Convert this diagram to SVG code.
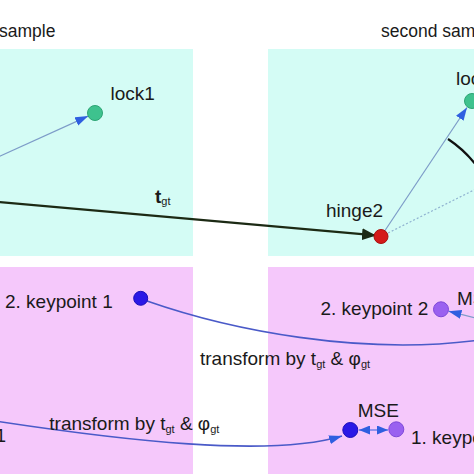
<svg xmlns="http://www.w3.org/2000/svg" width="474" height="474" viewBox="0 0 474 474">
<defs>
<style>
text{font-family:"Liberation Sans",Arial,sans-serif;fill:#1a1a1a}
.lbl{font-size:19px}
.title{font-size:17.5px}
.sub{font-size:11px}
.cyan{fill:#d4fcf5}
.pink{fill:#f5c8fb}
.thin{fill:none;stroke:#7d9cc8;stroke-width:1.2}
.dot{fill:none;stroke:#8fb2d0;stroke-width:1.2;stroke-dasharray:2 2}
.curve{fill:none;stroke:#4a5ac8;stroke-width:1.6}
.blue{fill:#2a18e6;stroke:#1c10b8;stroke-width:1}
.purple{fill:#9a60f0;stroke:#7e48d8;stroke-width:1}
</style>
<marker id="ab" markerUnits="userSpaceOnUse" markerWidth="14" markerHeight="10" refX="13" refY="5" orient="auto"><path d="M0,0.5 L13,5 L0,9.5 z" fill="#2f5fe0"/></marker>
<marker id="am" markerUnits="userSpaceOnUse" markerWidth="12" markerHeight="9" refX="11" refY="4.5" orient="auto-start-reverse"><path d="M0,0 L11,4.5 L0,9 z" fill="#2f5fe0"/></marker>
<marker id="ak" markerUnits="userSpaceOnUse" markerWidth="15" markerHeight="12" refX="14" refY="6" orient="auto"><path d="M0,0 L14,6 L0,12 z" fill="#1c2a14"/></marker>
</defs>

<g id="panels">
<rect class="cyan" x="-1" y="49" width="194" height="207"/>
<rect class="cyan" x="268" y="49" width="207" height="207"/>
<rect class="pink" x="-1" y="267" width="194" height="208"/>
<rect class="pink" x="268" y="267" width="207" height="208"/>
</g>

<g id="titles">
<text class="title" x="-1" y="37">sample</text>
<text class="title" x="381" y="37">second sample</text>
</g>

<g id="connectors">
<path class="thin" d="M -10 160.6 L 88.2 116.1" marker-end="url(#ab)"/>
<path d="M -10 201.2 L 376 235.4" fill="none" stroke="#1c2a14" stroke-width="2.4" marker-end="url(#ak)"/>
<path class="thin" stroke="#90b2d2" d="M 381 236.5 L 467 107.5" marker-end="url(#ab)"/>
<path class="dot" d="M 381 236.5 L 480 187"/>
<path d="M 448 139 A 119 119 0 0 1 488 184" fill="none" stroke="#111" stroke-width="2.2"/>
<path class="curve" d="M 147 301 C 230 330, 360 356, 480 340"/>
<path class="thin" stroke="#8fa8d8" d="M 480 319 L 448.5 311.2" marker-end="url(#ab)"/>
<path class="curve" d="M -5 421 C 120 440, 270 458, 342 436" marker-end="url(#ab)"/>
<path d="M 359 430 L 388 430" fill="none" stroke="#2f5fe0" stroke-width="1" marker-start="url(#am)" marker-end="url(#am)"/>
</g>

<g id="t_gt_label">
<text class="lbl" x="155" y="203" font-weight="bold">t<tspan class="sub" font-weight="normal" dy="2">gt</tspan></text>
</g>

<g id="lock1">
<circle cx="95" cy="113" r="7.5" fill="#3ec28e" stroke="#2ca474" stroke-width="1"/>
<text class="lbl" x="110.5" y="100">lock1</text>
</g>

<g id="lock2">
<circle cx="472" cy="101" r="7.5" fill="#3ec28e" stroke="#2ca474" stroke-width="1"/>
<text class="lbl" x="456" y="85">lock2</text>
</g>

<g id="hinge2">
<circle cx="381" cy="236.5" r="7" fill="#d41a1a" stroke="#a81010" stroke-width="1"/>
<text class="lbl" x="326" y="216.5">hinge2</text>
</g>

<g id="keypoint1_2">
<circle class="blue" cx="140.7" cy="298.3" r="7"/>
<text class="lbl" x="5" y="308">2. keypoint 1</text>
</g>

<g id="keypoint2_2">
<circle class="purple" cx="441" cy="309.3" r="7.5"/>
<text class="lbl" x="320.5" y="315">2. keypoint 2</text>
</g>

<g id="mse_top">
<text class="lbl" x="457" y="305">MSE</text>
</g>

<g id="transform_top">
<text class="lbl" x="200" y="365">transform by t<tspan class="sub" dy="3">gt</tspan><tspan dy="-3"> &amp; φ</tspan><tspan class="sub" dy="3">gt</tspan></text>
</g>

<g id="keypoint1_1">
<text class="lbl" x="6" y="442" text-anchor="end">1</text>
</g>

<g id="transform_bottom">
<text class="lbl" x="49.3" y="430">transform by t<tspan class="sub" dy="3">gt</tspan><tspan dy="-3"> &amp; φ</tspan><tspan class="sub" dy="3">gt</tspan></text>
</g>

<g id="transformed_keypoint1">
<circle class="blue" cx="350.3" cy="430" r="7.5"/>
<text class="lbl" x="357.7" y="416.7">MSE</text>
</g>

<g id="keypoint2_1">
<circle class="purple" cx="396.3" cy="429.3" r="7.5"/>
<text class="lbl" x="411" y="444">1. keypoint 2</text>
</g>
</svg>
